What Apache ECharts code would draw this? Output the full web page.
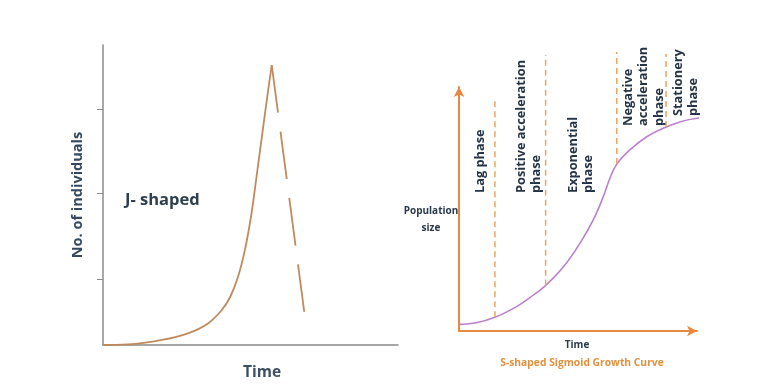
<!DOCTYPE html>
<html><head><meta charset="utf-8">
<script src="https://cdn.jsdelivr.net/npm/echarts@6/dist/echarts.min.js"></script>
<style>html,body{margin:0;padding:0;background:#fff}#c{width:768px;height:390px}</style>
</head><body><div id="c"></div>
<script>
// J-shaped curve (time, individuals) on 0..100 scales
const jGrowth = [[0,0],[8.5,0.2],[20.0,1.7],[28.8,3.9],[35.6,7.2],[40.3,11.7],[43.1,16],[45.8,22.8],[48.1,31.7],[50.2,43],[52.1,56.5],[54.3,72.7],[56.0,85],[57.2,93.3]];
const jDecline = [[57.2,93.3],[68.8,6.7]];
const jTicks = [22, 50.5, 78.7];

// S-shaped sigmoid curve (time, population size)
const sGrowth = [[0,2.7],[7.4,3.4],[15.1,5.6],[24.2,10.0],[29.8,13.7],[36.1,18.4],[43.8,26.2],[50.8,35.9],[56.4,45.5],[60.6,55.0],[63.4,62.6],[66.3,68.4],[71.8,74.2],[78.9,79.6],[85.8,83.1],[93.1,85.8],[100.1,87.2],[108.3,87.6]];
const phaseX = [15.1, 36.4, 66.3, 87.0];
const phaseBottom = [5.6, 18.5, 68.4, 83.6];
const phaseTop = [94.5, 113.1, 114.3, 113.5];
const phaseLabels = ['Lag phase','Positive acceleration\nphase','Exponential\nphase','Negative\nacceleration\nphase','Stationery\nphase'];

const chart = echarts.init(document.getElementById('c'), null, {renderer:'canvas'});
const FONT = '"Open Sans", "Noto Sans", sans-serif';
const dark = '#2a3a4e';
const orange = '#e8893c';

function txt(text, x, y, opt) {
  opt = opt || {};
  return {
    type: 'text', x: x, y: y, rotation: opt.rot || 0, silent: true,
    style: {
      text: text, fill: opt.color || dark,
      font: 'bold ' + (opt.size || 12) + 'px ' + FONT,
      align: opt.align || 'center', textAlign: opt.align || 'center',
      verticalAlign: 'middle', textVerticalAlign: 'middle',
      lineHeight: opt.lh || 16
    }
  };
}

const labelPos = [[480,193],[529,193],[581,193],[643.5,126],[686,116]];
const graphics = [
  txt('No. of individuals', 78, 195, {rot: Math.PI/2, size: 14.5, color: '#34495e'}),
  txt('J- shaped', 125, 200, {align: 'left', size: 16.5, color: '#2c3e50'}),
  txt('Time', 262, 373, {size: 15.5, color: '#3d4f63'}),
  txt('Population\nsize', 431, 220, {size: 10, lh: 17}),
  txt('Time', 577, 345, {size: 10}),
  txt('S-shaped Sigmoid Growth Curve', 582, 363, {size: 10.3, color: '#e0913f'})
];
phaseLabels.forEach((t, i) => {
  graphics.push(txt(t, labelPos[i][0], labelPos[i][1], {rot: Math.PI/2, align: 'left', size: 12.8, lh: 15.5, color: '#253447'}));
});

const phaseSeries = phaseX.map((x, i) => ({
  type: 'line', xAxisIndex: 1, yAxisIndex: 1, clip: false, showSymbol: false, silent: true,
  data: [[x, phaseBottom[i]], [x, phaseTop[i]]],
  lineStyle: {color: '#eaa560', width: 1.5, type: [6, 4]}
}));

chart.setOption({
  animation: false,
  backgroundColor: '#fff',
  grid: [
    {left: 103, top: 45, width: 295, height: 300},
    {left: 459, top: 87, width: 238, height: 244}
  ],
  xAxis: [
    {gridIndex: 0, type: 'value', min: 0, max: 100, axisLine: {lineStyle: {color: '#8a8a8a', width: 1.5}}, axisTick: {show: false}, axisLabel: {show: false}, splitLine: {show: false}},
    {gridIndex: 1, type: 'value', min: 0, max: 100, axisLine: {symbol: ['none','arrow'], symbolSize: [8, 10], lineStyle: {color: orange, width: 2}}, axisTick: {show: false}, axisLabel: {show: false}, splitLine: {show: false}}
  ],
  yAxis: [
    {gridIndex: 0, type: 'value', min: 0, max: 100, axisLine: {show: true, lineStyle: {color: '#8a8a8a', width: 1.5}}, axisTick: {show: true, length: 6, customValues: jTicks, lineStyle: {color: '#8a8a8a', width: 1}}, axisLabel: {show: false}, splitLine: {show: false}},
    {gridIndex: 1, type: 'value', min: 0, max: 100, axisLine: {show: true, symbol: ['none','arrow'], symbolSize: [8, 10], lineStyle: {color: orange, width: 2}}, axisTick: {show: false}, axisLabel: {show: false}, splitLine: {show: false}}
  ],
  series: [
    {type: 'line', xAxisIndex: 0, yAxisIndex: 0, data: jGrowth, smooth: 0.4, showSymbol: false, silent: true,
     lineStyle: {color: '#c08a5c', width: 1.8}},
    {type: 'line', xAxisIndex: 0, yAxisIndex: 0, data: jDecline, showSymbol: false, silent: true,
     lineStyle: {color: '#c08a5c', width: 1.8, type: [48, 19]}},
    {type: 'line', xAxisIndex: 1, yAxisIndex: 1, data: sGrowth, smooth: 0.4, clip: false, showSymbol: false, silent: true,
     lineStyle: {color: '#bb80d0', width: 1.6}}
  ].concat(phaseSeries),
  graphic: graphics
});
</script>
</body></html>
